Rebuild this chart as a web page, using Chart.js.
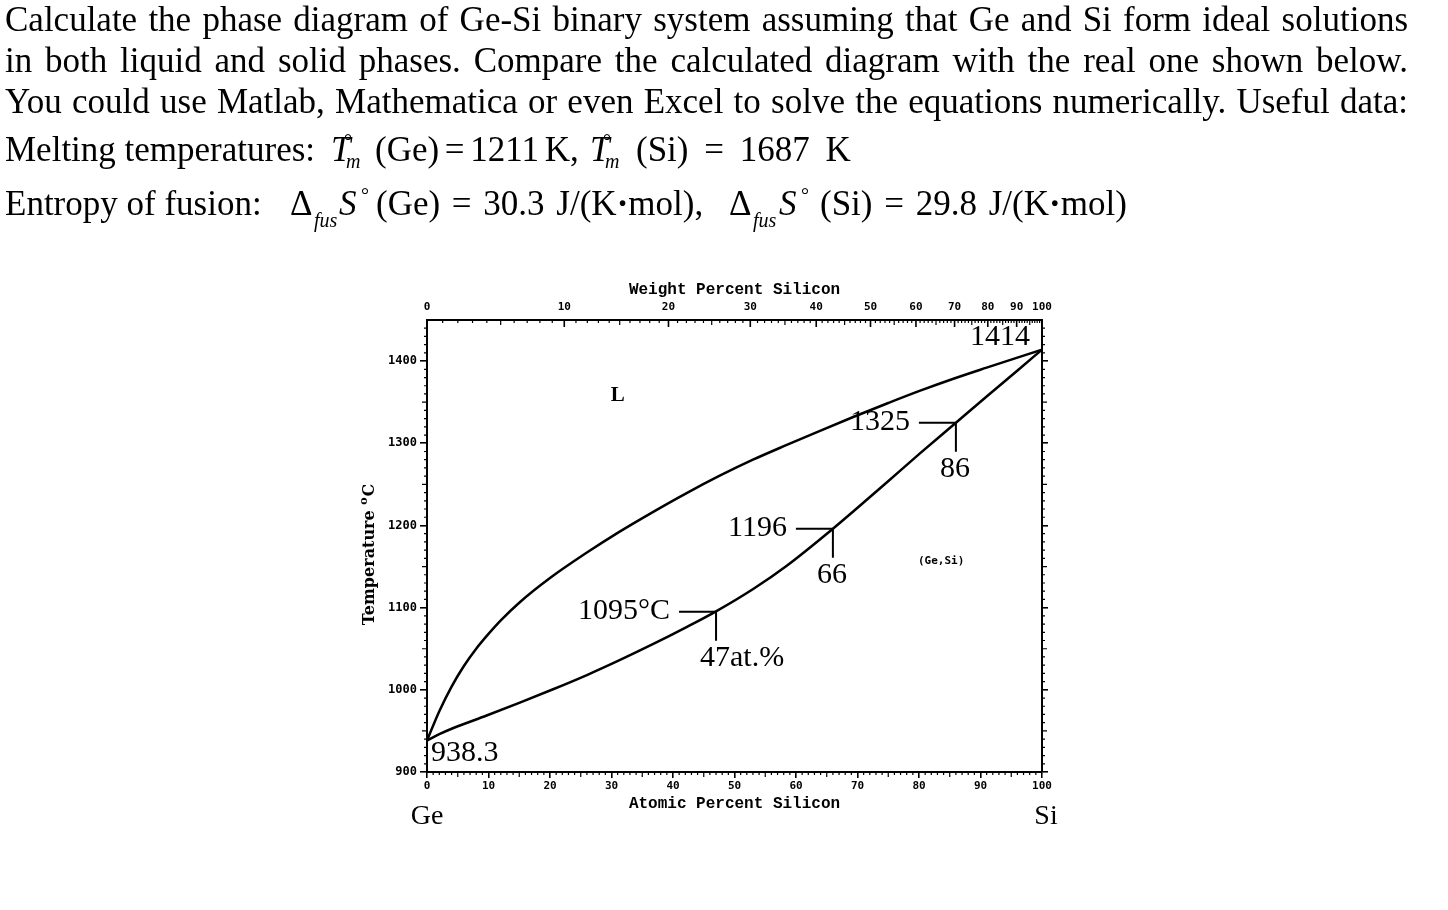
<!DOCTYPE html>
<html>
<head>
<meta charset="utf-8">
<script src="https://cdn.jsdelivr.net/npm/chart.js@4.4.1/dist/chart.umd.min.js"></script>
<style>
  body { margin: 0; background: #fff; width: 1448px; height: 910px; overflow: hidden; position: relative; }
  .hl { position: absolute; left: 5px; font: 35px "Liberation Serif", serif; line-height: 35px; white-space: nowrap; color: #000; z-index: 2; }
  .just { width: 1403px; text-align: justify; text-align-last: justify; white-space: normal; }
  .seg { position: absolute; top: 0; white-space: nowrap; }
  .sm { font-size: 20px; line-height: 20px; }
  #chart { position: absolute; left: 0; top: 0; z-index: 1; }
</style>
</head>
<body>
<div class="hl just" style="top:2px">Calculate the phase diagram of Ge-Si binary system assuming that Ge and Si form ideal solutions</div>
<div class="hl just" style="top:43px">in both liquid and solid phases. Compare the calculated diagram with the real one shown below.</div>
<div class="hl just" style="top:84px">You could use Matlab, Mathematica or even Excel to solve the equations numerically. Useful data:</div>

<div class="hl" style="top:132px; left:0; width:1448px; height:40px">
  <span class="seg" style="left:5px">Melting temperatures:</span>
  <span class="seg" style="left:331px"><i>T</i></span>
  <span class="seg sm" style="left:344px; top:-1px">°</span>
  <span class="seg sm" style="left:346px; top:19px"><i>m</i></span>
  <span class="seg" style="left:375px; word-spacing:-3px">(Ge) = 1211 K,</span>
  <span class="seg" style="left:590px"><i>T</i></span>
  <span class="seg sm" style="left:603px; top:-1px">°</span>
  <span class="seg sm" style="left:605px; top:19px"><i>m</i></span>
  <span class="seg" style="left:636px; word-spacing:7px">(Si) = 1687 K</span>
</div>
<div class="hl" style="top:186px; left:0; width:1448px; height:40px">
  <span class="seg" style="left:5px">Entropy of fusion:</span>
  <span class="seg" style="left:290px">Δ</span>
  <span class="seg sm" style="left:314px; top:24px"><i>fus</i></span>
  <span class="seg" style="left:339px"><i>S</i></span>
  <span class="seg sm" style="left:361px; top:-1px">°</span>
  <span class="seg" style="left:376px; word-spacing:3px">(Ge) = 30.3 J/(K<b>·</b>mol),</span>
  <span class="seg" style="left:729px">Δ</span>
  <span class="seg sm" style="left:753px; top:24px"><i>fus</i></span>
  <span class="seg" style="left:779px"><i>S</i></span>
  <span class="seg sm" style="left:801px; top:-1px">°</span>
  <span class="seg" style="left:820px; word-spacing:3px">(Si) = 29.8 J/(K<b>·</b>mol)</span>
</div>

<canvas id="chart" width="1448" height="910"></canvas>

<script>
// bottom axis (atomic %), top axis (weight %), left axis (deg C)
const atomicTicks = [0, 10, 20, 30, 40, 50, 60, 70, 80, 90, 100];
const weightTicks = [0, 10, 20, 30, 40, 50, 60, 70, 80, 90, 100];
const tempTicks = [900, 1000, 1100, 1200, 1300, 1400];

// liquidus
const liqAt = [0, 2, 4, 6, 8, 10, 12, 15, 20, 26, 31, 37, 42, 47.6, 53, 58.5, 64, 69.3, 75, 80.2, 85.6, 91, 95.5, 100];
const liqT = [938.3, 974, 1004, 1029, 1050, 1068, 1084.5, 1106, 1136, 1167, 1191, 1217.5, 1238.5, 1260.5, 1280, 1298, 1315.5, 1332, 1349, 1364, 1378.5, 1392, 1403, 1414];

// solidus
const solAt = [0, 2, 4.3, 9.7, 15.1, 20.5, 26, 31.4, 36.8, 42.2, 47, 53.1, 58.5, 66, 69.3, 74.7, 80.2, 86, 91, 96.4, 100];
const solT = [938.3, 946, 953.5, 968.7, 984.5, 1000.7, 1018, 1036.4, 1055.8, 1076.3, 1095.5, 1123, 1151, 1196, 1217, 1252, 1288, 1325, 1357, 1391, 1414];

// labelled points on the solidus
const markAt = [47, 66, 86];
const markT = [1095, 1196, 1325];
const markTLabel = ['1095°C', '1196', '1325'];
const markAtLabel = ['47at.%', '66', '86'];

const M_SI = 28.0855, M_GE = 72.63;
function wtToAt(w) {
    const nSi = w / M_SI, nGe = (100 - w) / M_GE;
    return 100 * nSi / (nSi + nGe);
}

const tickFont = { family: 'DejaVu Sans Mono', size: 11, weight: 'bold' };
const serif = '"Liberation Serif", serif';

function toPts(xs, ys) {
    return xs.map((v, i) => ({ x: v, y: ys[i] }));
}

// minor ticks, top axis ticks, annotations and titles
const phaseDecor = {
    id: 'phaseDecor',
    afterDraw(chart) {
        const { ctx, chartArea: a, scales } = chart;
        const sx = scales.x, sy = scales.y, st = scales.xTop;
        ctx.save();
        ctx.strokeStyle = '#000';
        ctx.fillStyle = '#000';

        ctx.lineWidth = 1.2;
        ctx.beginPath();
        for (let v = 1; v < 100; v++) {
            if (v % 10 === 0) continue;
            const len = v % 5 === 0 ? 5 : 3;
            const px = sx.getPixelForValue(v);
            ctx.moveTo(px, a.bottom); ctx.lineTo(px, a.bottom + len);
            const pt = st.getPixelForValue(wtToAt(v));
            ctx.moveTo(pt, a.top); ctx.lineTo(pt, a.top + len);
        }
        for (let t = 910; t < 1450; t += 10) {
            if (t % 100 === 0) continue;
            const py = sy.getPixelForValue(t);
            const len = t % 50 === 0 ? 5 : 3;
            ctx.moveTo(a.left, py); ctx.lineTo(a.left - len, py);
            ctx.moveTo(a.right, py); ctx.lineTo(a.right + len, py);
        }
        ctx.stroke();

        ctx.lineWidth = 1.6;
        ctx.beginPath();
        weightTicks.forEach(w => {
            const pt = st.getPixelForValue(wtToAt(w));
            ctx.moveTo(pt, a.top); ctx.lineTo(pt, a.top + 7);
        });
        ctx.stroke();

        function txt(s, x, y, font, align) {
            ctx.font = font;
            ctx.textAlign = align || 'center';
            ctx.textBaseline = 'middle';
            ctx.fillText(s, x, y);
        }

        // T-shaped markers
        ctx.lineWidth = 2;
        markAt.forEach((v, i) => {
            const px = sx.getPixelForValue(v), py = sy.getPixelForValue(markT[i]);
            ctx.beginPath();
            ctx.moveTo(px - 37, py); ctx.lineTo(px, py);
            ctx.moveTo(px, py); ctx.lineTo(px, py + 29);
            ctx.stroke();
            txt(markTLabel[i], px - 46, py - 1, '30px ' + serif, 'right');
            txt(markAtLabel[i], px - 16, py + 46, '30px ' + serif, 'left');
        });

        const x0 = sx.getPixelForValue(0), y0 = sy.getPixelForValue(938.3);
        txt('938.3', x0 + 4, y0 + 13, '30px ' + serif, 'left');
        const x1 = sx.getPixelForValue(100), y1 = sy.getPixelForValue(1414);
        txt('1414', x1 - 12, y1 - 12, '30px ' + serif, 'right');

        txt('L', sx.getPixelForValue(31), sy.getPixelForValue(1358), 'bold 21px ' + serif);
        txt('(Ge,Si)', sx.getPixelForValue(83.6), sy.getPixelForValue(1157), 'bold 11px "DejaVu Sans Mono"');

        txt('Ge', x0, a.bottom + 45, '28px ' + serif);
        txt('Si', x1 + 4, a.bottom + 45, '28px ' + serif);

        const cx = (a.left + a.right) / 2;
        txt('Weight Percent Silicon', cx, a.top - 30, 'bold 16px "Liberation Mono"');
        txt('Atomic Percent Silicon', cx, a.bottom + 32, 'bold 16px "Liberation Mono"');

        // rotated y title with raised "o"
        ctx.translate(370, (a.top + a.bottom) / 2 + 9);
        ctx.rotate(-Math.PI / 2);
        ctx.font = 'bold 16px "DejaVu Serif"';
        const w1 = ctx.measureText('Temperature ').width;
        ctx.font = 'bold 11px "DejaVu Serif"';
        const w2 = ctx.measureText('o').width;
        ctx.font = 'bold 16px "DejaVu Serif"';
        const w3 = ctx.measureText('C').width;
        const sx0 = -(w1 + w2 + w3) / 2;
        txt('Temperature ', sx0, 0, 'bold 16px "DejaVu Serif"', 'left');
        txt('o', sx0 + w1, -6, 'bold 11px "DejaVu Serif"', 'left');
        txt('C', sx0 + w1 + w2 + 1, 0, 'bold 16px "DejaVu Serif"', 'left');
        ctx.restore();
    }
};

const lineStyle = {
    showLine: true,
    borderColor: '#000',
    borderWidth: 2.5,
    pointRadius: 0,
    cubicInterpolationMode: 'monotone',
    fill: false
};

const ctx = document.getElementById('chart').getContext('2d');
const phaseChart = new Chart(ctx, {
    type: 'scatter',
    data: {
        datasets: [
            Object.assign({ label: 'Liquidus', data: toPts(liqAt, liqT) }, lineStyle),
            Object.assign({ label: 'Solidus', data: toPts(solAt, solT) }, lineStyle)
        ]
    },
    options: {
        responsive: false,
        animation: false,
        layout: { padding: 0 },
        plugins: {
            legend: { display: false },
            tooltip: { enabled: false }
        },
        scales: {
            x: {
                type: 'linear', position: 'bottom', min: 0, max: 100,
                afterBuildTicks: s => { s.ticks = atomicTicks.map(v => ({ value: v })); },
                ticks: { font: tickFont, color: '#000', padding: 2, maxRotation: 0, autoSkip: false,
                         callback: v => String(v) },
                grid: { drawOnChartArea: false, color: '#000', tickLength: 6, lineWidth: 1.6 },
                border: { color: '#000', width: 2 },
                afterFit: s => { s.height = 910 - 772; }
            },
            xTop: {
                type: 'linear', position: 'top', min: 0, max: 100,
                afterBuildTicks: s => { s.ticks = weightTicks.map(w => ({ value: wtToAt(w) })); },
                ticks: { font: tickFont, color: '#000', padding: 6, maxRotation: 0, autoSkip: false,
                         callback: (v, i) => String(weightTicks[i]) },
                grid: { drawOnChartArea: false, drawTicks: false },
                border: { color: '#000', width: 2 },
                afterFit: s => { s.height = 320; }
            },
            y: {
                type: 'linear', position: 'left', min: 900, max: 1450,
                afterBuildTicks: s => { s.ticks = tempTicks.map(v => ({ value: v })); },
                ticks: { font: { family: 'DejaVu Sans Mono', size: 12, weight: 'bold' }, color: '#000', padding: 3,
                         callback: v => String(v) },
                grid: { drawOnChartArea: false, color: '#000', tickLength: 7, lineWidth: 1.6 },
                border: { color: '#000', width: 2 },
                afterFit: s => { s.width = 427; }
            },
            y2: {
                type: 'linear', position: 'right', min: 900, max: 1450,
                afterBuildTicks: s => { s.ticks = tempTicks.map(v => ({ value: v })); },
                ticks: { display: false },
                grid: { drawOnChartArea: false, color: '#000', tickLength: 6, lineWidth: 1.6 },
                border: { color: '#000', width: 2 },
                afterFit: s => { s.width = 1448 - 1042; }
            }
        }
    },
    plugins: [phaseDecor]
});
</script>
</body>
</html>
